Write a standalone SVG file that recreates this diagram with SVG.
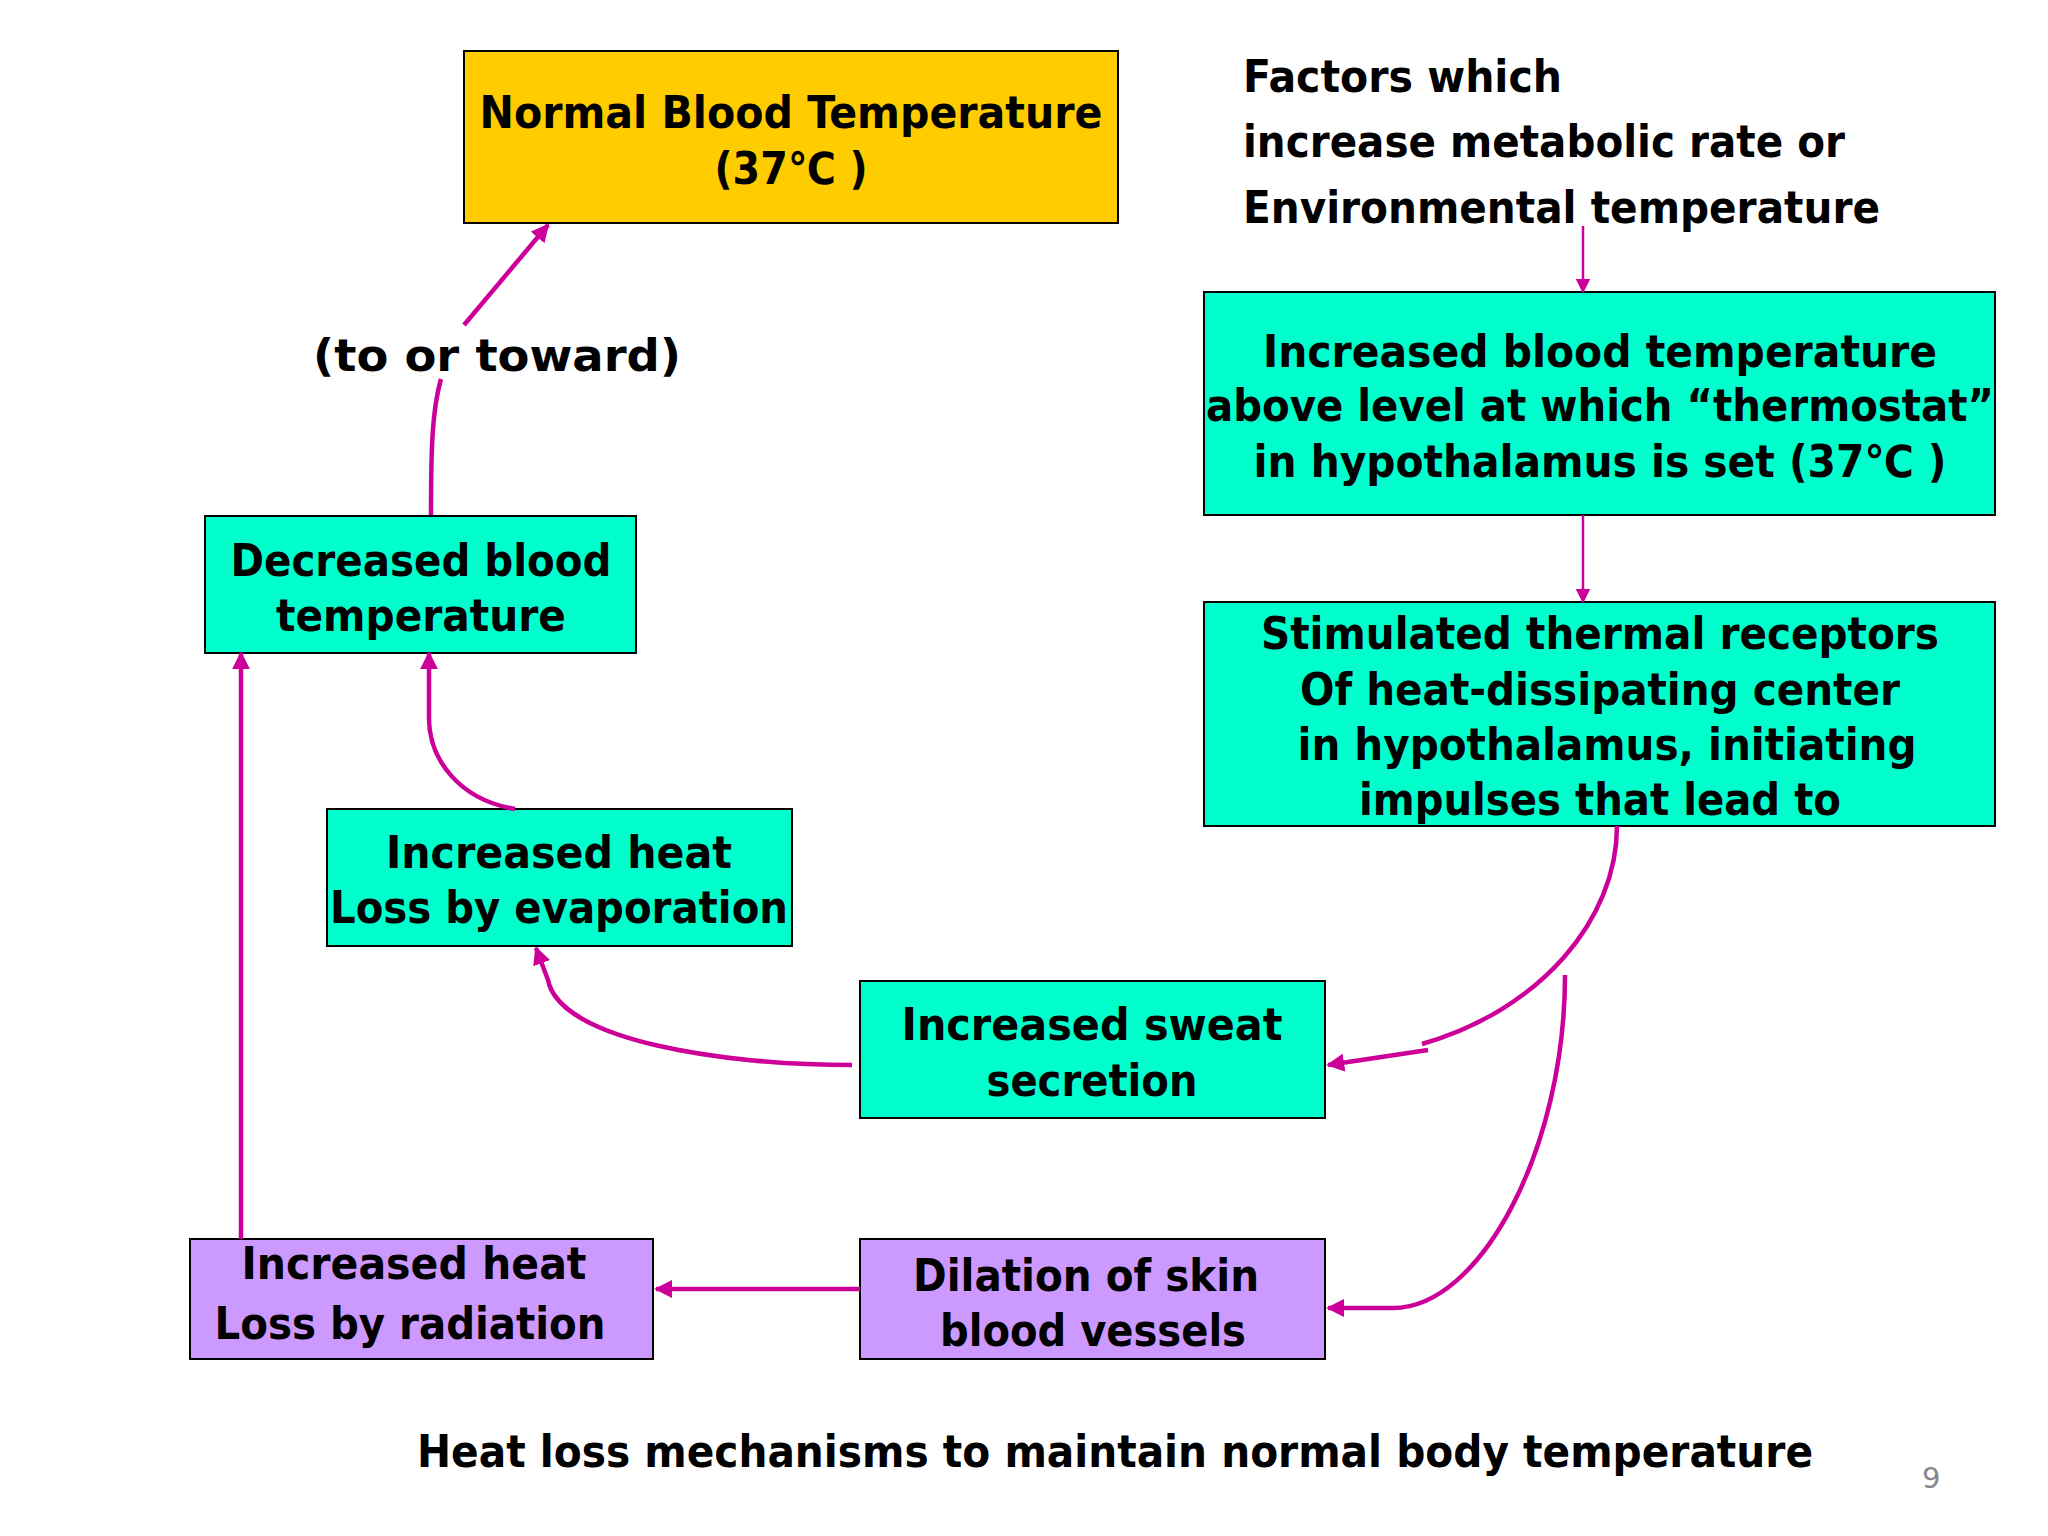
<svg xmlns="http://www.w3.org/2000/svg" width="2048" height="1536" viewBox="0 0 2048 1536">
<style>
.b{stroke:#000;stroke-width:2}
.g{fill:#00FFCC}.p{fill:#CC99FF}.y{fill:#FFCC00}
text{font-family:"DejaVu Sans Condensed","DejaVu Sans",sans-serif;font-weight:bold;font-size:44px;fill:#000}
.c{text-anchor:middle}
.l{fill:none;stroke:#CC0099;stroke-width:4.5}
.t{fill:none;stroke:#CC0099;stroke-width:2.5}
</style>
<defs>
<marker id="a" viewBox="0 0 10 10" refX="9" refY="5" markerWidth="5" markerHeight="5" orient="auto" markerUnits="userSpaceOnUse" style="overflow:visible"><path d="M0,0L10,5L0,10z" fill="#CC0099"/></marker>
<marker id="A" viewBox="0 0 10 10" refX="9" refY="5" markerWidth="4" markerHeight="4" orient="auto"><path d="M0,0L10,5L0,10z" fill="#CC0099"/></marker>
<marker id="s" viewBox="0 0 10 10" refX="9" refY="5" markerWidth="6" markerHeight="6" orient="auto"><path d="M0,0L10,5L0,10z" fill="#CC0099"/></marker>
</defs>
<rect width="2048" height="1536" fill="#fff"/>
<g id="normal"><rect class="b y" x="464" y="51" width="654" height="172"/>
<text class="c" x="791" y="128" textLength="623" lengthAdjust="spacingAndGlyphs">Normal Blood Temperature</text>
<text class="c" x="791" y="184">(37℃ )</text></g>
<g id="factors">
<text x="1243" y="92" textLength="319" lengthAdjust="spacingAndGlyphs">Factors which</text>
<text x="1243" y="157" textLength="602" lengthAdjust="spacingAndGlyphs">increase metabolic rate or</text>
<text x="1243" y="223" textLength="637" lengthAdjust="spacingAndGlyphs">Environmental temperature</text></g>
<g id="incblood"><rect class="b g" x="1204" y="292" width="791" height="223"/>
<text class="c" x="1600" y="367" textLength="674" lengthAdjust="spacingAndGlyphs">Increased blood temperature</text>
<text class="c" x="1600" y="421" textLength="788" lengthAdjust="spacingAndGlyphs">above level at which “thermostat”</text>
<text class="c" x="1600" y="477" textLength="693" lengthAdjust="spacingAndGlyphs">in hypothalamus is set (37℃ )</text></g>
<g id="stim"><rect class="b g" x="1204" y="602" width="791" height="224"/>
<text class="c" x="1600" y="649" textLength="678" lengthAdjust="spacingAndGlyphs">Stimulated thermal receptors</text>
<text class="c" x="1600" y="705" textLength="600" lengthAdjust="spacingAndGlyphs">Of heat-dissipating center</text>
<text class="c" x="1607" y="760" textLength="619" lengthAdjust="spacingAndGlyphs">in hypothalamus, initiating</text>
<text class="c" x="1600" y="815" textLength="482" lengthAdjust="spacingAndGlyphs">impulses that lead to</text></g>
<g id="decreased"><rect class="b g" x="205" y="516" width="431" height="137"/>
<text class="c" x="421" y="576" textLength="381" lengthAdjust="spacingAndGlyphs">Decreased blood</text>
<text class="c" x="421" y="631" textLength="290" lengthAdjust="spacingAndGlyphs">temperature</text></g>
<g id="evap"><rect class="b g" x="327" y="809" width="465" height="137"/>
<text class="c" x="559" y="868" textLength="346" lengthAdjust="spacingAndGlyphs">Increased heat</text>
<text class="c" x="559" y="923" textLength="458" lengthAdjust="spacingAndGlyphs">Loss by evaporation</text></g>
<g id="sweat"><rect class="b g" x="860" y="981" width="465" height="137"/>
<text class="c" x="1092" y="1040" textLength="381" lengthAdjust="spacingAndGlyphs">Increased sweat</text>
<text class="c" x="1092" y="1096" textLength="211" lengthAdjust="spacingAndGlyphs">secretion</text></g>
<g id="radiation"><rect class="b p" x="190" y="1239" width="463" height="120"/>
<text class="c" x="414" y="1279" textLength="345" lengthAdjust="spacingAndGlyphs">Increased heat</text>
<text class="c" x="410" y="1339" textLength="391" lengthAdjust="spacingAndGlyphs">Loss by radiation</text></g>
<g id="dilation"><rect class="b p" x="860" y="1239" width="465" height="120"/>
<text class="c" x="1086" y="1291" textLength="346" lengthAdjust="spacingAndGlyphs">Dilation of skin</text>
<text class="c" x="1093" y="1346" textLength="306" lengthAdjust="spacingAndGlyphs">blood vessels</text></g>
<g id="labels">
<text x="313" y="371" textLength="368" lengthAdjust="spacingAndGlyphs">(to or toward)</text>
<text x="417" y="1467" textLength="1396" lengthAdjust="spacingAndGlyphs">Heat loss mechanisms to maintain normal body temperature</text>
<text x="1922" y="1488" style="font-weight:normal;font-size:29px;fill:#888;font-family:'DejaVu Sans',sans-serif">9</text></g>
<g id="connectors">
<path class="t" d="M1583,226V292" marker-end="url(#s)"/>
<path class="t" d="M1583,515V602" marker-end="url(#s)"/>
<path class="l" d="M431,515C431,450 432,410 441,379"/>
<path class="l" d="M464,325L548,225" marker-end="url(#A)"/>
<path class="l" d="M515,809C460,800 429,760 429,718V653" marker-end="url(#A)"/>
<path class="l" d="M241,1239V653" marker-end="url(#A)"/>
<path class="l" d="M1617,826C1617,920 1540,1010 1422,1044"/>
<path class="l" d="M1428,1050L1328,1065" marker-end="url(#A)"/>
<path class="l" d="M1565,975C1565,1150 1480,1308 1393,1308H1328" marker-end="url(#A)"/>
<path class="l" d="M852,1065C720,1065 560,1040 548,980L536,948" marker-end="url(#A)"/>
<path class="l" d="M860,1289H656" marker-end="url(#A)"/>
</g>
</svg>
